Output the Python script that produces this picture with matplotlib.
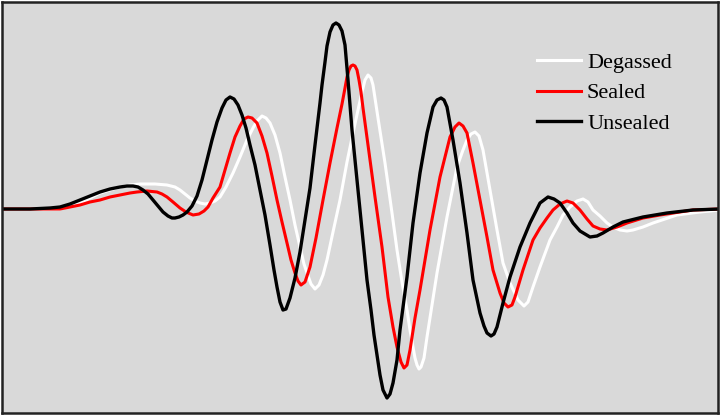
import matplotlib
matplotlib.use("Agg")
import matplotlib.pyplot as plt

# points (x = time, y = signal in screen units, y grows downward)
unsealed_x = [0, 30, 50, 60, 70, 80, 90, 100, 110, 120, 127, 133, 138, 143, 148, 153, 158,
              163, 168, 172, 175, 179, 183, 187, 192, 197, 202, 207, 212, 217, 222, 226,
              230, 234, 238, 242, 246, 250, 255, 260, 265, 270, 274, 277, 280, 283, 286,
              290, 295, 300, 305, 310, 315, 320, 322, 325, 327, 330, 333, 336, 339, 342,
              345, 348, 352, 357, 362, 367, 371, 374, 377, 380, 383, 387, 390, 393, 397,
              400, 407, 413, 420, 427, 433, 437, 441, 444, 447, 453, 460, 467, 473, 480,
              484, 487, 491, 494, 497, 503, 510, 520, 530, 540, 548,
              554, 560, 567, 573, 580, 590, 597, 603, 613, 623, 643, 667, 693, 720]
unsealed_y = [209, 209, 208, 207, 204, 200, 196, 192, 189, 187, 186, 186, 187, 190, 194, 200, 206,
              212, 216, 218, 218, 217, 215, 212, 206, 196, 180, 160, 140, 122, 108, 100,
              97, 99, 105, 115, 128, 145, 165, 190, 215, 245, 270, 287, 302, 310, 309,
              298, 278, 252, 220, 188, 145, 103, 85, 62, 46, 32, 25, 23, 25, 31,
              45, 80, 130, 180, 230, 280, 310, 335, 355, 375, 390, 398, 394, 383, 360,
              330, 277, 223, 173, 133, 107, 100, 98, 100, 107, 140, 183, 233, 280, 313,
              326, 333, 336, 334, 327, 303, 277, 247, 223, 203, 197,
              199, 203, 213, 223, 231, 237, 236, 233, 227, 222, 217, 213, 210, 209]

sealed_x = [0, 60, 70, 80, 90, 100, 110, 120, 130, 137, 147, 157, 162, 167, 173, 180, 186,
            193, 199, 204, 208, 213, 220, 225, 230, 235, 240, 244, 248, 252, 257, 262,
            267, 272, 277, 282, 287, 291, 295, 298, 301, 305, 310, 316, 323, 330, 337,
            342, 345, 347, 349, 351, 353, 355, 357, 359, 361, 363, 368, 375, 382, 388,
            393, 397, 401, 404, 407, 410, 415, 420, 430, 440, 450, 455, 459, 463, 467,
            473, 480, 487, 493, 500, 504, 508, 512, 515, 523, 533, 540, 547, 553, 560,
            567, 573, 580, 587, 593, 600, 607, 617, 627, 643, 660, 693, 720]
sealed_y = [209, 209, 207, 205, 202, 200, 197, 195, 193, 192, 191, 192, 194, 197, 202, 208, 212,
            215, 214, 211, 207, 198, 187, 170, 153, 137, 126, 119, 117, 118, 123, 136,
            153, 176, 200, 222, 243, 260, 273, 281, 285, 282, 267, 238, 200, 163, 128,
            104, 88, 77, 70, 66, 65, 66, 70, 80, 92, 108, 145, 197, 247, 297,
            327, 347, 362, 368, 365, 350, 318, 290, 230, 177, 137, 127, 123, 126, 133,
            163, 200, 237, 270, 293, 303, 307, 305, 297, 270, 240, 228, 218, 210, 204,
            201, 203, 210, 219, 226, 229, 230, 227, 223, 218, 215, 210, 209]

degassed_x = [0, 60, 70, 80, 90, 100, 110, 120, 130, 140, 155, 167, 175, 180, 185, 190, 195,
              200, 205, 210, 215, 220, 226, 233, 240, 247, 253, 257, 262, 266, 270, 275,
              280, 285, 290, 295, 300, 304, 307, 311, 315, 319, 323, 327, 333, 340, 347,
              353, 358, 362, 365, 368, 371, 373, 378, 385, 392, 397, 402, 407, 410, 413,
              415, 417, 419, 421, 424, 427, 432, 437, 447, 457, 463, 467, 471, 475, 479,
              483, 490, 497, 503, 510, 518, 524, 528, 533, 540, 550, 557, 563, 570, 577,
              583, 588, 593, 600, 607, 613, 620, 627, 633, 643, 653, 665, 677, 700, 720]
degassed_y = [209, 209, 206, 203, 198, 193, 190, 187, 185, 184, 184, 185, 187, 190, 194, 198, 201,
              203, 204, 203, 201, 197, 187, 173, 157, 140, 128, 121, 116, 118, 123, 135,
              153, 177, 200, 225, 247, 264, 273, 284, 289, 285, 275, 260, 232, 200, 162,
              133, 110, 92, 80, 75, 78, 85, 118, 163, 213, 250, 282, 310, 330, 347,
              358, 365, 369, 367, 358, 337, 305, 273, 217, 167, 150, 140, 134, 132, 136,
              150, 190, 230, 263, 283, 300, 306, 302, 287, 267, 240, 227, 215, 207, 201,
              199, 202, 210, 216, 223, 227, 230, 231, 230, 227, 223, 219, 215, 212, 210]

labels = ["Degassed", "Sealed", "Unsealed"]

fig = plt.figure(figsize=(7.2, 4.18), dpi=100)
ax = fig.add_axes([2 / 720, 5 / 418, 716 / 720, 411 / 418])
ax.set_facecolor("#d9d9d9")

ax.plot(degassed_x, degassed_y, color="white", lw=2.2, label=labels[0])
ax.plot(sealed_x, sealed_y, color="#ff0000", lw=2.2, label=labels[1])
ax.plot(unsealed_x, unsealed_y, color="black", lw=2.4, label=labels[2])

ax.set_xlim(2, 718)
ax.set_ylim(413, 2)
ax.set_xticks([])
ax.set_yticks([])
for s in ax.spines.values():
    s.set_linewidth(1.8)
    s.set_color("#222222")

leg = ax.legend(loc="upper left", bbox_to_anchor=(537, 52), bbox_transform=ax.transData,
                frameon=False, prop={"family": "Liberation Serif", "size": 16},
                handlelength=2.0, handletextpad=0.25, labelspacing=0.46,
                borderaxespad=0, borderpad=0)

fig.savefig("out.png", dpi=100)
